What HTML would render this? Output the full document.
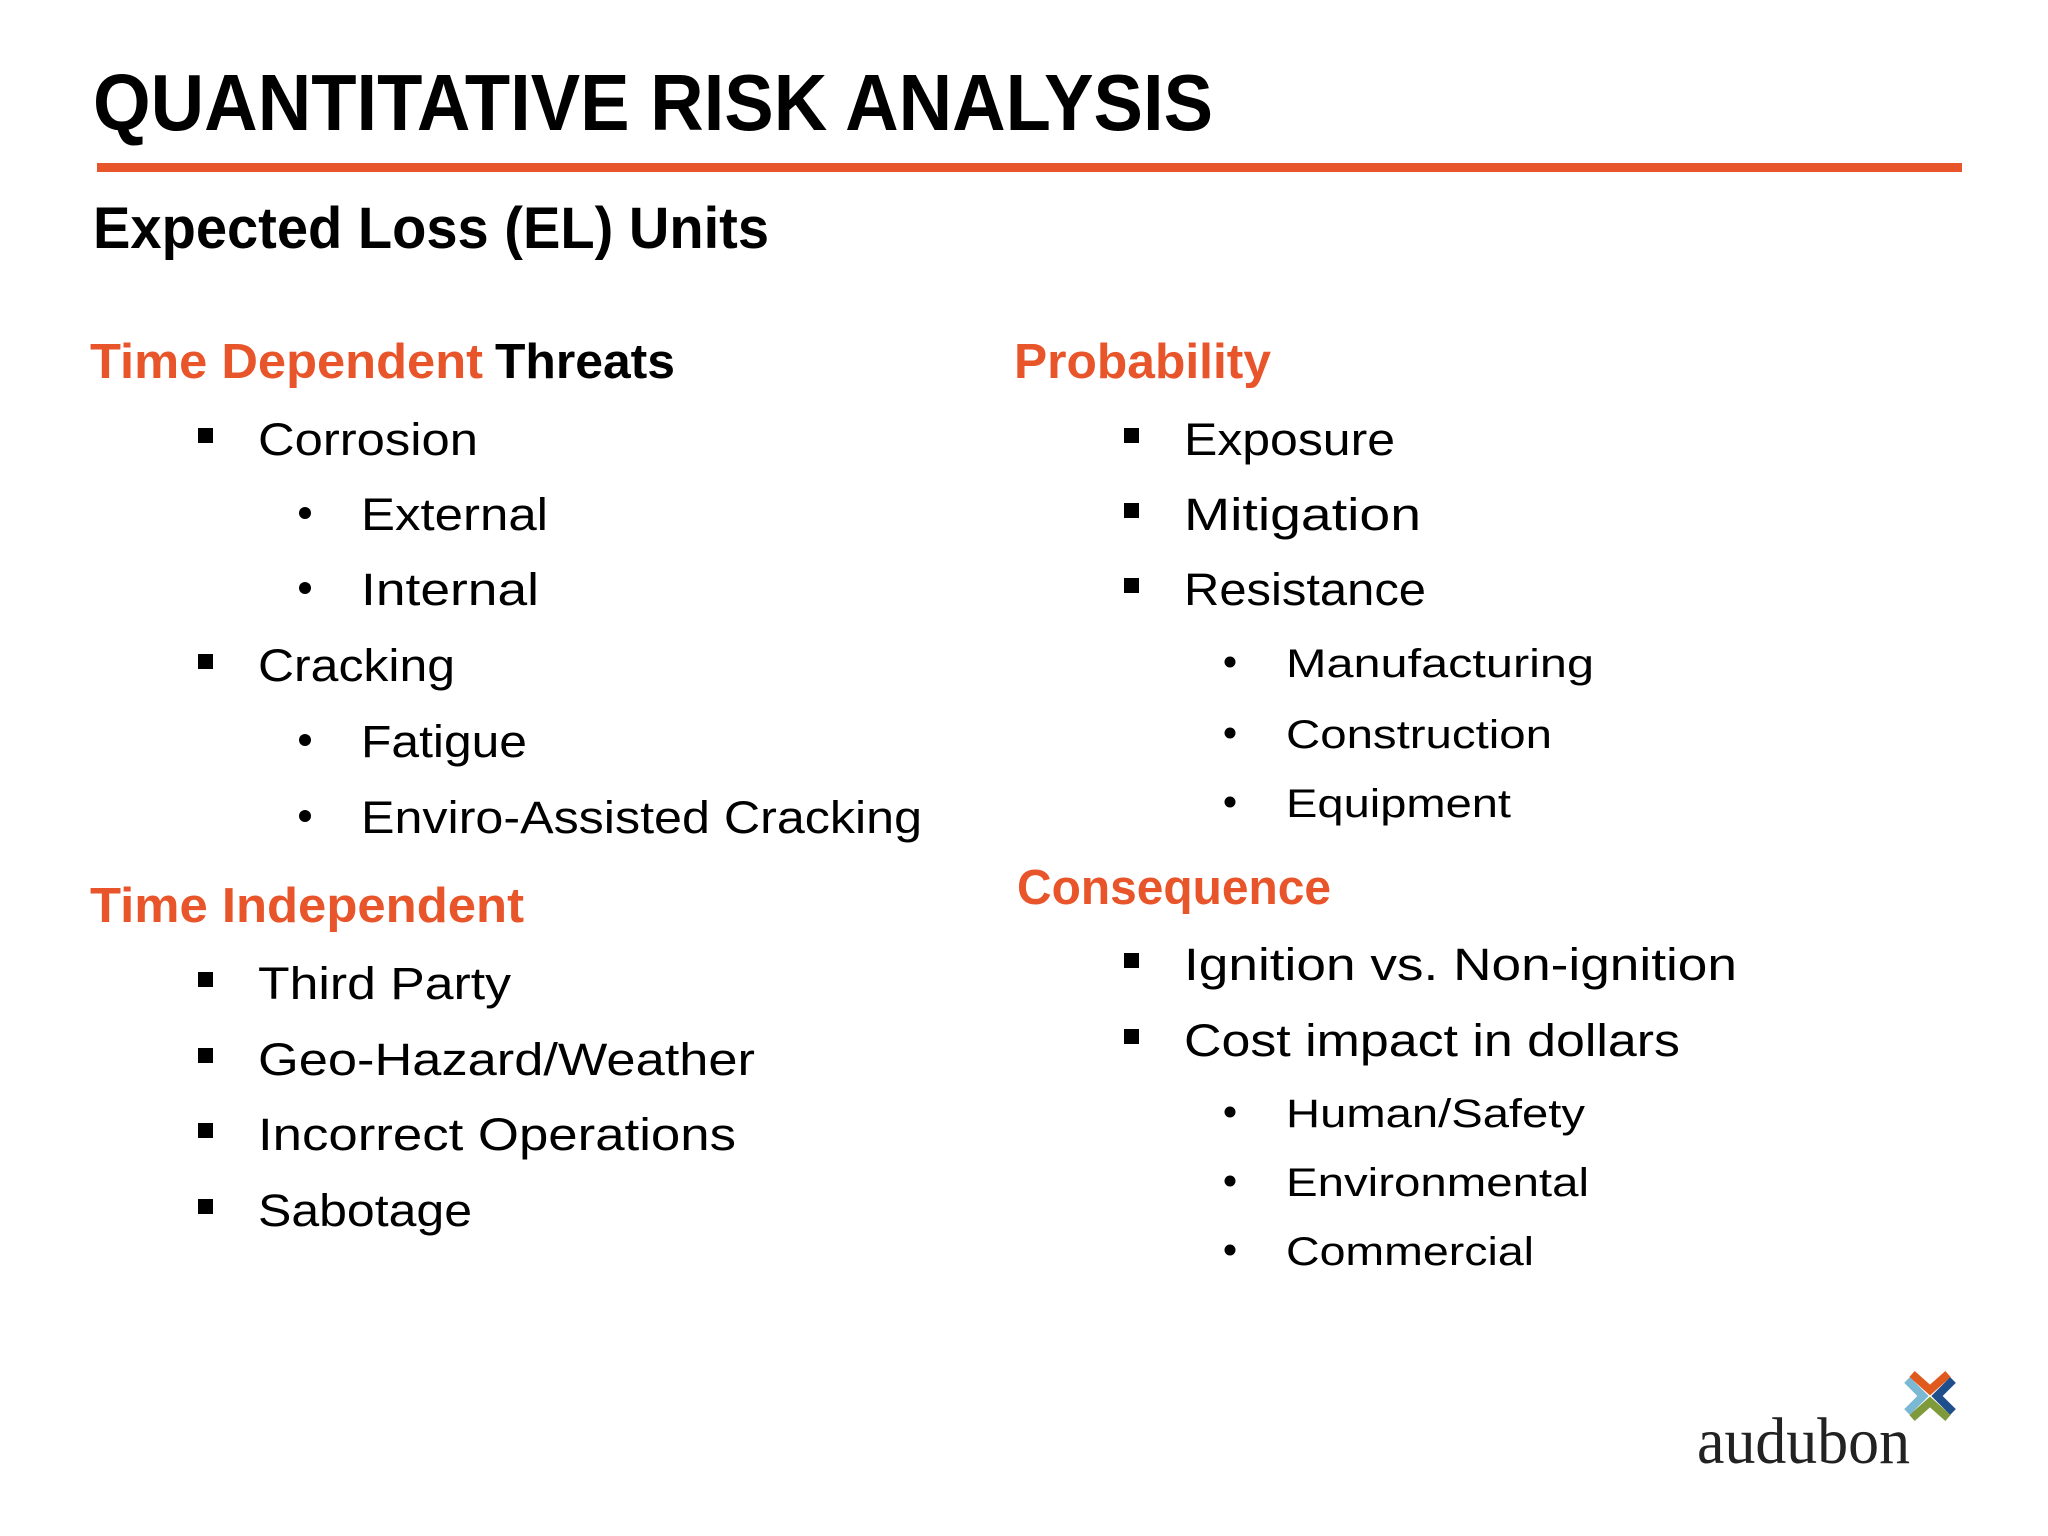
<!DOCTYPE html>
<html><head><meta charset="utf-8"><style>
html,body{margin:0;padding:0;background:#fff;}
svg{display:block;}
text{font-family:"Liberation Sans",sans-serif;}
</style></head><body>
<svg width="2048" height="1536" viewBox="0 0 2048 1536">
<rect width="2048" height="1536" fill="#fff"/>
<text x="93" y="130" font-size="80" font-weight="bold" textLength="1120" lengthAdjust="spacingAndGlyphs">QUANTITATIVE RISK ANALYSIS</text>
<rect x="97" y="163" width="1865" height="9" fill="#E8552B"/>
<text x="93" y="248" font-size="58" font-weight="bold" textLength="676" lengthAdjust="spacingAndGlyphs">Expected Loss (EL) Units</text>

<g>
<text x="90" y="378" font-size="49" font-weight="bold"><tspan fill="#E8552B" textLength="393" lengthAdjust="spacingAndGlyphs">Time Dependent</tspan><tspan x="495" textLength="180" lengthAdjust="spacingAndGlyphs">Threats</tspan></text>
<text x="90" y="922" font-size="49" font-weight="bold" fill="#E8552B" textLength="434" lengthAdjust="spacingAndGlyphs">Time Independent</text>
</g>
<g id="items"></g>
<g>
<text x="1014" y="378" font-size="49" font-weight="bold" fill="#E8552B" textLength="257" lengthAdjust="spacingAndGlyphs">Probability</text>
<text x="1017" y="904" font-size="49" font-weight="bold" fill="#E8552B" textLength="314" lengthAdjust="spacingAndGlyphs">Consequence</text>
</g>

<g>
<text x="1697" y="1463" style="font-family:'Liberation Serif',serif" font-size="66" fill="#222" textLength="213" lengthAdjust="spacingAndGlyphs">audubon</text>
<g fill="none" stroke-width="8">
<polyline points="1912,1374 1930,1390 1948,1374" stroke="#E05A1E"/>
<polyline points="1953,1380 1937,1396 1953,1412" stroke="#1F4E8C"/>
<polyline points="1912,1418 1930,1402 1948,1418" stroke="#7F9A3A"/>
<polyline points="1907,1380 1923,1396 1907,1412" stroke="#7BB8D4"/>
</g>
</g>
</svg>
<script>
const NS="http://www.w3.org/2000/svg";
const g=document.getElementById('items');
// [text, x, baseline, width, level]
const items=[
["Corrosion",258,455,220,1],["External",361,530,187,2],["Internal",361,605,178,2],
["Cracking",258,681,197,1],["Fatigue",361,757,166,2],["Enviro-Assisted Cracking",361,833,561,2],
["Third Party",258,999,253,1],["Geo-Hazard/Weather",258,1075,497,1],["Incorrect Operations",258,1150,478,1],["Sabotage",258,1226,214,1],
["Exposure",1184,455,211,1],["Mitigation",1184,530,237,1],["Resistance",1184,605,242,1],
["Manufacturing",1286,677,308,3],["Construction",1286,748,266,3],["Equipment",1286,817,225,3],
["Ignition vs. Non-ignition",1184,980,553,1],["Cost impact in dollars",1184,1056,496,1],
["Human/Safety",1286,1127,299,3],["Environmental",1286,1196,303,3],["Commercial",1286,1265,248,3]
];
items.forEach(([t,x,y,w,l])=>{
  const tx=document.createElementNS(NS,'text');
  tx.setAttribute('x',x);tx.setAttribute('y',y);
  tx.setAttribute('font-size',l===3?40:45);
  tx.setAttribute('textLength',w);tx.setAttribute('lengthAdjust','spacingAndGlyphs');
  tx.textContent=t;
  
  
  g.appendChild(tx);
  let b;
  if(l===1){
    b=document.createElementNS(NS,'rect');
    const bx = x-60;
    b.setAttribute('x',bx);b.setAttribute('y',y-27);b.setAttribute('width',15);b.setAttribute('height',15);
  } else {
    b=document.createElementNS(NS,'circle');
    b.setAttribute('cx',x-56);b.setAttribute('cy',y-(l===3?15:17));b.setAttribute('r',l===3?5.5:6);
  }
  
  
  g.appendChild(b);
});
</script>
</body></html>
